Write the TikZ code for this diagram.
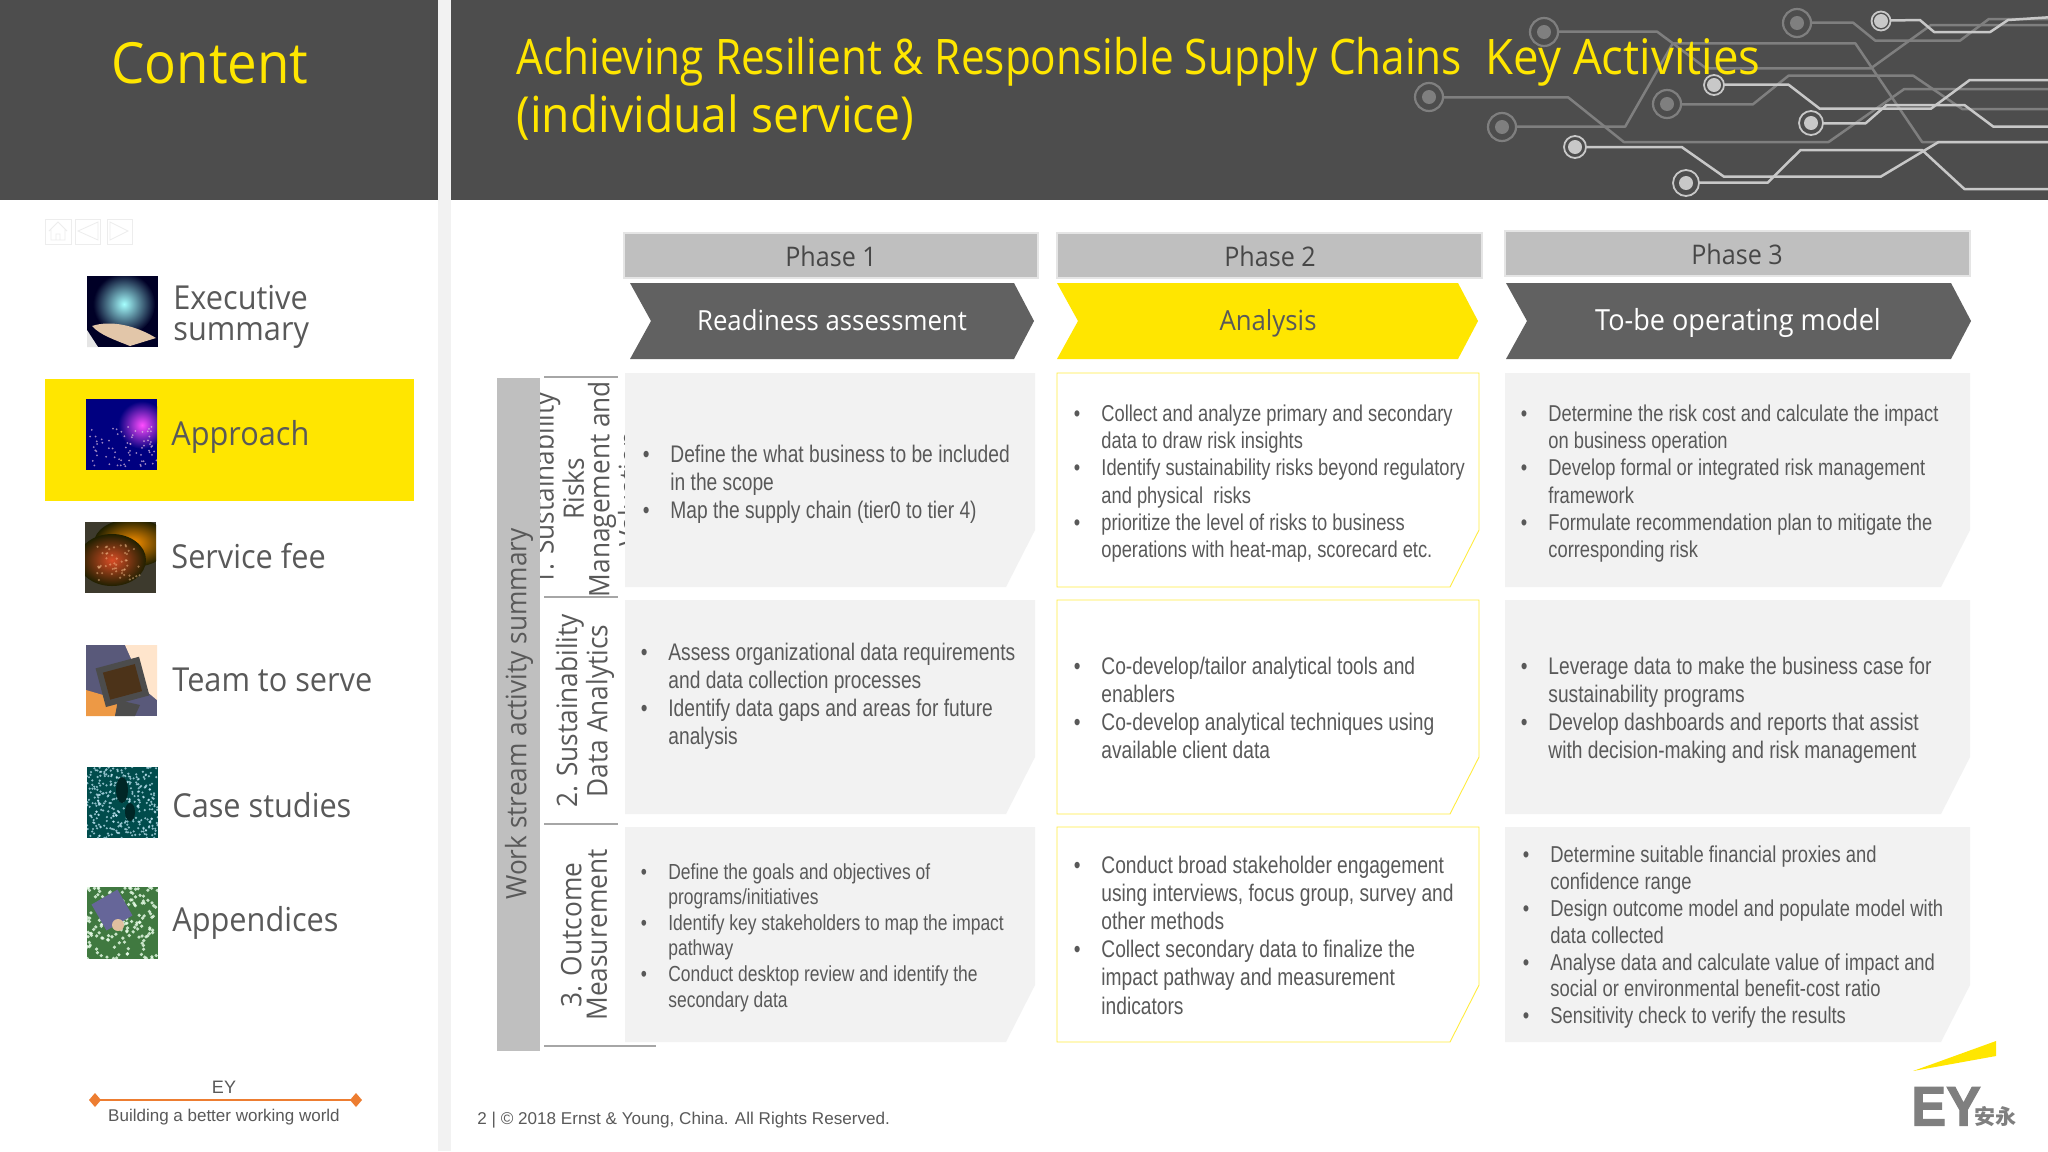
\documentclass[tikz,border=0pt]{standalone}
\usepackage{fontspec}
\usepackage{array}
\setmainfont{Liberation Sans}
\newfontfamily\seg[FakeStretch=0.93]{Open Sans}
\newfontfamily\segn[FakeStretch=0.864]{Open Sans}
\newfontfamily\narrow[FakeStretch=0.80]{Liberation Sans}
\newfontfamily\arialf{Liberation Sans}
\newfontfamily\eyf[BoldFeatures={FakeBold=2,FakeStretch=0.93}]{Liberation Sans}
\newfontfamily\cjkf{Noto Sans CJK SC}
\definecolor{hdr}{HTML}{4D4D4D}
\definecolor{eyy}{HTML}{FFE600}
\definecolor{strip}{HTML}{F2F2F2}
\definecolor{txt}{HTML}{595959}
\definecolor{barg}{HTML}{BFBFBF}
\definecolor{chev}{HTML}{616161}
\definecolor{cdark}{HTML}{7F7F7F}
\definecolor{clight}{HTML}{C8C8C8}
\definecolor{rul}{HTML}{A6A6A6}
\definecolor{orng}{HTML}{ED7D31}
\newcommand{\bcell}[3]{{\narrow\fontsize{#1}{#2}\selectfont\color{txt}\renewcommand{\arraystretch}{1}\setlength{\tabcolsep}{0pt}\begin{tabular}{@{}l@{}l@{}}#3\end{tabular}}}
\newcommand{\bu}{\makebox[13pt][l]{\hspace{-0.8pt}\textbullet}}
\newcommand{\snip}[5]{\path[#5] (#1,#2)--(#3,#2)--(#3,#4-57)--(#3-29,#4)--(#1,#4)--cycle;}
\newcommand{\chevr}[8]{\path[#6] (#1,283)--(#3,283)--(#4,321)--(#3,359)--(#1,359)--(#2,321)--cycle;\node[#7] at (#8,330) {#5};}
\newcommand{\thumb}[3]{\begin{scope}\clip (#1,#2) rectangle ++(71,71);#3\end{scope}}
\tikzset{
 x=0.5pt,y=-0.5pt,
 phasebox/.style={fill=barg,draw=black!10,line width=1pt},
 phasetext/.style={text=black!72,font=\seg\fontsize{13.5}{14}\selectfont,inner sep=0pt},
 chevtext/.style={anchor=base,text=white,font=\seg\fontsize{13.85}{15}\selectfont,inner sep=0pt},
 chevtextb/.style={anchor=base,text=white,font=\seg\fontsize{14.55}{15}\selectfont,inner sep=0pt},
 chevdark/.style={anchor=base,text=txt,font=\seg\fontsize{13.85}{15}\selectfont,inner sep=0pt},
 cellgrey/.style={fill=strip,draw=none},
 cellyel/.style={fill=white,draw=eyy!75,line width=0.45pt},
 rowrule/.style={draw=rul,line width=1pt},
 darkwire/.style={draw=cdark,line width=1.25pt,line join=round},
 lightwire/.style={draw=clight,line width=1.25pt,line join=round},
 menu/.style={anchor=west,text=txt,font=\seg\fontsize{16.5}{15.5}\selectfont,align=left,inner sep=0pt},
 rot/.style={rotate=90,text=txt,font=\seg\fontsize{14.1}{12.7}\selectfont,align=center,inner sep=0pt},
 cellt/.style={anchor=west,inner sep=0pt},
 navi/.style={draw=black!7,line width=0.4pt},
}
\begin{document}
\begin{tikzpicture}
\useasboundingbox (0,0) rectangle (2048,1151);
\fill[white] (0,0) rectangle (2048,1151);
% strip and headers
\fill[strip] (438,0) rectangle (451,1151);
\fill[hdr] (0,0) rectangle (438,200);
\fill[hdr] (451,0) rectangle (2048,200);
% circuit
\begin{scope}[shift={(1350,0)},x=0.2226pt,y=-0.16667pt]
 \draw[darkwire] (435,95)--(690,95)--(800,205)--(1170,205)--(1305,75)--(1568,75);
 \draw[darkwire] (1003,68)--(1130,68)--(1180,122)--(1370,122)--(1435,57)--(1568,57);
 \draw[darkwire] (176,292)--(490,292)--(615,426)--(1075,426)--(1245,267)--(1568,267);
 \draw[darkwire] (341,380)--(618,380)--(725,130)--(1135,130)--(1285,426)--(1568,426);
 \draw[darkwire] (712,313)--(905,313)--(985,227)--(1265,227)--(1375,327)--(1568,327);
 \draw[lightwire] (1193,62)--(1280,60)--(1312,96)--(1438,96)--(1478,60)--(1568,52);
 \draw[lightwire] (818,254)--(985,254)--(1055,326)--(1305,326)--(1392,240)--(1568,240);
 \draw[lightwire] (1035,370)--(1158,370)--(1205,315)--(1380,315)--(1445,380)--(1568,380);
 \draw[lightwire] (505,441)--(745,441)--(840,530)--(1192,530)--(1322,426)--(1568,426);
 \draw[lightwire] (755,548)--(938,548)--(1012,450)--(1285,450)--(1380,567)--(1568,567);
\end{scope}
\foreach \cx/\cy in {1544/32,1797/23,1429/97,1502/127,1667/104}{
 \draw[cdark,line width=1.1pt,fill=hdr] (\cx,\cy) circle (14);
 \fill[cdark] (\cx,\cy) circle (7);}
\foreach \cx/\cy/\r in {1881/21/9.5,1714/85/10,1811/123/12,1575/147/11,1686/183/13}{
 \draw[clight,line width=0.9pt,fill=hdr] (\cx,\cy) circle (\r);
 \fill[clight] (\cx,\cy) circle (7);}
% titles
\node[anchor=center,text=eyy,font=\seg\fontsize{28.4}{28.5}\selectfont,inner sep=0pt] (content) at (210,63) {Content};
\node[anchor=north west,text=eyy,align=left,font=\seg\fontsize{24.5}{29}\selectfont,inner sep=0pt] (title) at (516,36.5) {{\segn Achieving Resilient \& Responsible Supply Chains}\ \ Key Activities\\{\fontsize{24.85}{29}\selectfont (individual service)}};
% nav
\draw[navi] (45,219) rectangle (71,244);
\draw[navi] (49,231)--(58,222)--(67,231) (51,229)--(51,240)--(65,240)--(65,229) (56,240)--(56,234)--(60,234)--(60,240);
\draw[navi] (75,219) rectangle (100,244);
\draw[navi] (78,231)--(98,222)--(98,240)--cycle;
\draw[navi] (107,219) rectangle (132,244);
\draw[navi] (110,222)--(128,231)--(110,240)--cycle;
% sidebar
\fill[eyy] (45,379) rectangle (414,501);
\thumb{87}{276}{\fill[black!85!blue] (87,276) rectangle ++(71,71);
 \shade[inner color=cyan!35!white,outer color=black!85!blue,draw=none] (124,304) circle (31);
 \fill[brown!45!white] (92,326) .. controls (110,320) and (135,325) .. (156,338) -- (130,346) .. controls (115,340) and (100,335) .. (92,326);
 \fill[black!10] (87,330) -- (98,347) -- (87,347) -- cycle;}
\thumb{86}{399}{\fill[blue!50!black] (86,399) rectangle ++(71,71);
 \shade[inner color=magenta!70!white,outer color=blue!50!black] (142,425) circle (24);
 \pgfmathsetseed{3}\foreach \i in {1,...,70}{\fill[violet!25!white,opacity=.7] ({90+rnd*67},{425+rnd*42}) circle (1);}}
\thumb{85}{522}{\fill[black!75!olive] (85,522) rectangle ++(71,71);
 \shade[inner color=orange!85!yellow,outer color=black!75!olive] (132,543) ellipse (38 and 24);
 \shade[inner color=red!40!brown,outer color=black!75!olive] (112,560) ellipse (34 and 26);
 \pgfmathsetseed{5}\foreach \i in {1,...,50}{\fill[orange!40!white,opacity=.45] ({95+rnd*45},{545+rnd*35}) circle (1.2);}}
\thumb{86}{645}{\fill[blue!20!black!65!white] (86,645) rectangle ++(71,71);
 \fill[orange!65!brown!80!white] (86,690)--(120,700)--(115,716)--(86,716)--cycle;
 \fill[orange!20!white] (125,645)--(157,645)--(157,700)--(145,690)--cycle;
 \fill[black!70] (118,700)--(140,705)--(135,716)--(115,716)--cycle;
 \fill[black!70,rotate around={15:(122,682)}] (100,662) rectangle (145,702);
 \fill[black!60!brown,rotate around={15:(122,682)}] (106,668) rectangle (139,696);}
\thumb{87}{767}{\fill[teal!60!black] (87,767) rectangle ++(71,71);
 \pgfmathsetseed{7}\foreach \i in {1,...,320}{\fill[cyan!22!white,opacity=.7] ({87+rnd*71},{767+rnd*71}) circle (1.2);}
 \fill[black!70!teal] (122,790) ellipse (6 and 13) (130,812) ellipse (5 and 9);}
\thumb{87}{887}{\fill[green!30!black!75!white] (87,887) rectangle ++(71,72);
 \pgfmathsetseed{11}\foreach \i in {1,...,160}{\fill[green!8!white,opacity=.8] ({87+rnd*71},{887+rnd*72}) circle (1.8);}
 \fill[gray!80!blue,rotate around={30:(112,910)}] (97,895) rectangle (127,925);
 \fill[brown!50!white] (118,925) circle (6);}
\node[menu] (m1) at (173,317) {Executive\\summary};
\node[menu] (m2) at (171,437) {Approach};
\node[menu] (m3) at (171,556) {Service fee};
\node[menu] (m4) at (172,680) {Team to serve};
\node[menu] (m5) at (172,805) {Case studies};
\node[menu] (m6) at (172,923) {Appendices};
% footers
\node[text=txt,font=\arialf\fontsize{9}{9}\selectfont,inner sep=0pt] (ey) at (224,1087) {EY};
\coordinate (l1) at (95,1100); \coordinate (l2) at (356,1100);
\draw[orng,line width=1pt] (l1)--(l2);
\fill[orng] (89,1100)--(95,1093)--(101,1100)--(95,1107)--cycle;
\fill[orng] (350,1100)--(356,1093)--(362,1100)--(356,1107)--cycle;
\node[text=txt,font=\arialf\fontsize{8.5}{9}\selectfont,inner sep=0pt] (bb) at (224,1117) {Building a better working world};
\node[anchor=west,text=txt,font=\arialf\fontsize{8.55}{9}\selectfont,inner sep=0pt] (foot) at (477,1120.5) {2 | © 2018 Ernst \& Young, China. All Rights Reserved.};
% rotated text (behind bar and cells)
\node[rot] (s1) at (586,489) {1. Sustainability\\Risks\\Management and\\Valuation};
\node[rot] (s2) at (585,711) {2. Sustainability\\Data Analytics};
\node[rot] (s3) at (584,935) {3. Outcome\\Measurement};
% bar
\fill[barg] (497,378) rectangle (540,1051);
\node[rotate=90,text=txt,font=\seg\fontsize{14.1}{14}\selectfont,inner sep=0pt] (ws) at (519,714) {Work stream activity summary};
\draw[rowrule] (544,377)--(618,377);
\draw[rowrule] (544,597)--(618,597);
\draw[rowrule] (544,824)--(618,824);
\draw[rowrule] (544,1046)--(656,1046);
% phase boxes
\draw[phasebox] (624,233) rectangle (1038,278);
\draw[phasebox] (1057,233) rectangle (1482,278);
\draw[phasebox] (1505,231) rectangle (1970,276);
\node[phasetext] (p1) at (831,256) {Phase 1};
\node[phasetext] (p2) at (1270,256) {Phase 2};
\node[phasetext] (p3) at (1737,254) {Phase 3};
% chevrons
\chevr{630}{651}{1014}{1034}{Readiness assessment}{fill=chev}{chevtext}{832}
\chevr{1057}{1078}{1458}{1478}{Analysis}{fill=eyy}{chevdark}{1268}
\chevr{1506}{1527}{1951}{1971}{To-be operating model}{fill=chev}{chevtextb}{1738}
% cells
\snip{625}{373}{1035}{587}{cellgrey}
\snip{625}{600}{1035}{814}{cellgrey}
\snip{625}{827}{1035}{1042}{cellgrey}
\snip{1057}{373}{1479}{587}{cellyel}
\snip{1057}{600}{1479}{814}{cellyel}
\snip{1057}{827}{1479}{1042}{cellyel}
\snip{1505}{373}{1970}{587}{cellgrey}
\snip{1505}{600}{1970}{814}{cellgrey}
\snip{1505}{827}{1970}{1042}{cellgrey}
% cell text
\node[cellt] (c11) at (644,485) {\bcell{12}{14.1}{
 \bu&Define the what business to be included\\
 &in the scope\\
 \bu&Map the supply chain (tier0 to tier 4)}};
\node[cellt] (c21) at (642,697) {\bcell{12}{14.1}{
 \bu&Assess organizational data requirements\\
 &and data collection processes\\
 \bu&Identify data gaps and areas for future\\
 &analysis}};
\node[cellt] (c31) at (642,938) {\bcell{10.9}{12.8}{
 \bu&Define the goals and objectives of\\
 &programs/initiatives\\
 \bu&Identify key stakeholders to map the impact\\
 &pathway\\
 \bu&Conduct desktop review and identify the\\
 &secondary data}};
\node[cellt] (c12) at (1075,484) {\bcell{11.45}{13.6}{
 \bu&Collect and analyze primary and secondary\\
 &data to draw risk insights\\
 \bu&Identify sustainability risks beyond regulatory\\
 &and physical~ risks\\
 \bu&prioritize the level of risks to business\\
 &operations with heat-map, scorecard etc.}};
\node[cellt] (c22) at (1075,711) {\bcell{12}{14.1}{
 \bu&Co-develop/tailor analytical tools and\\
 &enablers\\
 \bu&Co-develop analytical techniques using\\
 &available client data}};
\node[cellt] (c32) at (1075,938) {\bcell{12}{14.1}{
 \bu&Conduct broad stakeholder engagement\\
 &using interviews, focus group, survey and\\
 &other methods\\
 \bu&Collect secondary data to finalize the\\
 &impact pathway and measurement\\
 &indicators}};
\node[cellt] (c13) at (1522,484) {\bcell{11.45}{13.6}{
 \bu&Determine the risk cost and calculate the impact\\
 &on business operation\\
 \bu&Develop formal or integrated risk management\\
 &framework\\
 \bu&Formulate recommendation plan to mitigate the\\
 &corresponding risk}};
\node[cellt] (c23) at (1522,711) {\bcell{12}{14.1}{
 \bu&Leverage data to make the business case for\\
 &sustainability programs\\
 \bu&Develop dashboards and reports that assist\\
 &with decision-making and risk management}};
\node[cellt] (c33) at (1524,938) {\bcell{11.5}{13.4}{
 \bu&Determine suitable financial proxies and\\
 &confidence range\\
 \bu&Design outcome model and populate model with\\
 &data collected\\
 \bu&Analyse data and calculate value of impact and\\
 &social or environmental benefit-cost ratio\\
 \bu&Sensitivity check to verify the results}};
% logo
\fill[eyy] (1913,1071)--(1996,1041)--(1996,1056)--cycle;
\node[anchor=south west,inner sep=0pt,text=cdark,font=\eyf\bfseries\fontsize{28}{28}\selectfont] (eylogo) at (1911,1126) {EY};
\node[anchor=south west,inner sep=0pt,text=cdark,font=\cjkf\bfseries\fontsize{10.5}{11}\selectfont] (eycn) at (1974,1127) {安永};
\end{tikzpicture}
\end{document}
